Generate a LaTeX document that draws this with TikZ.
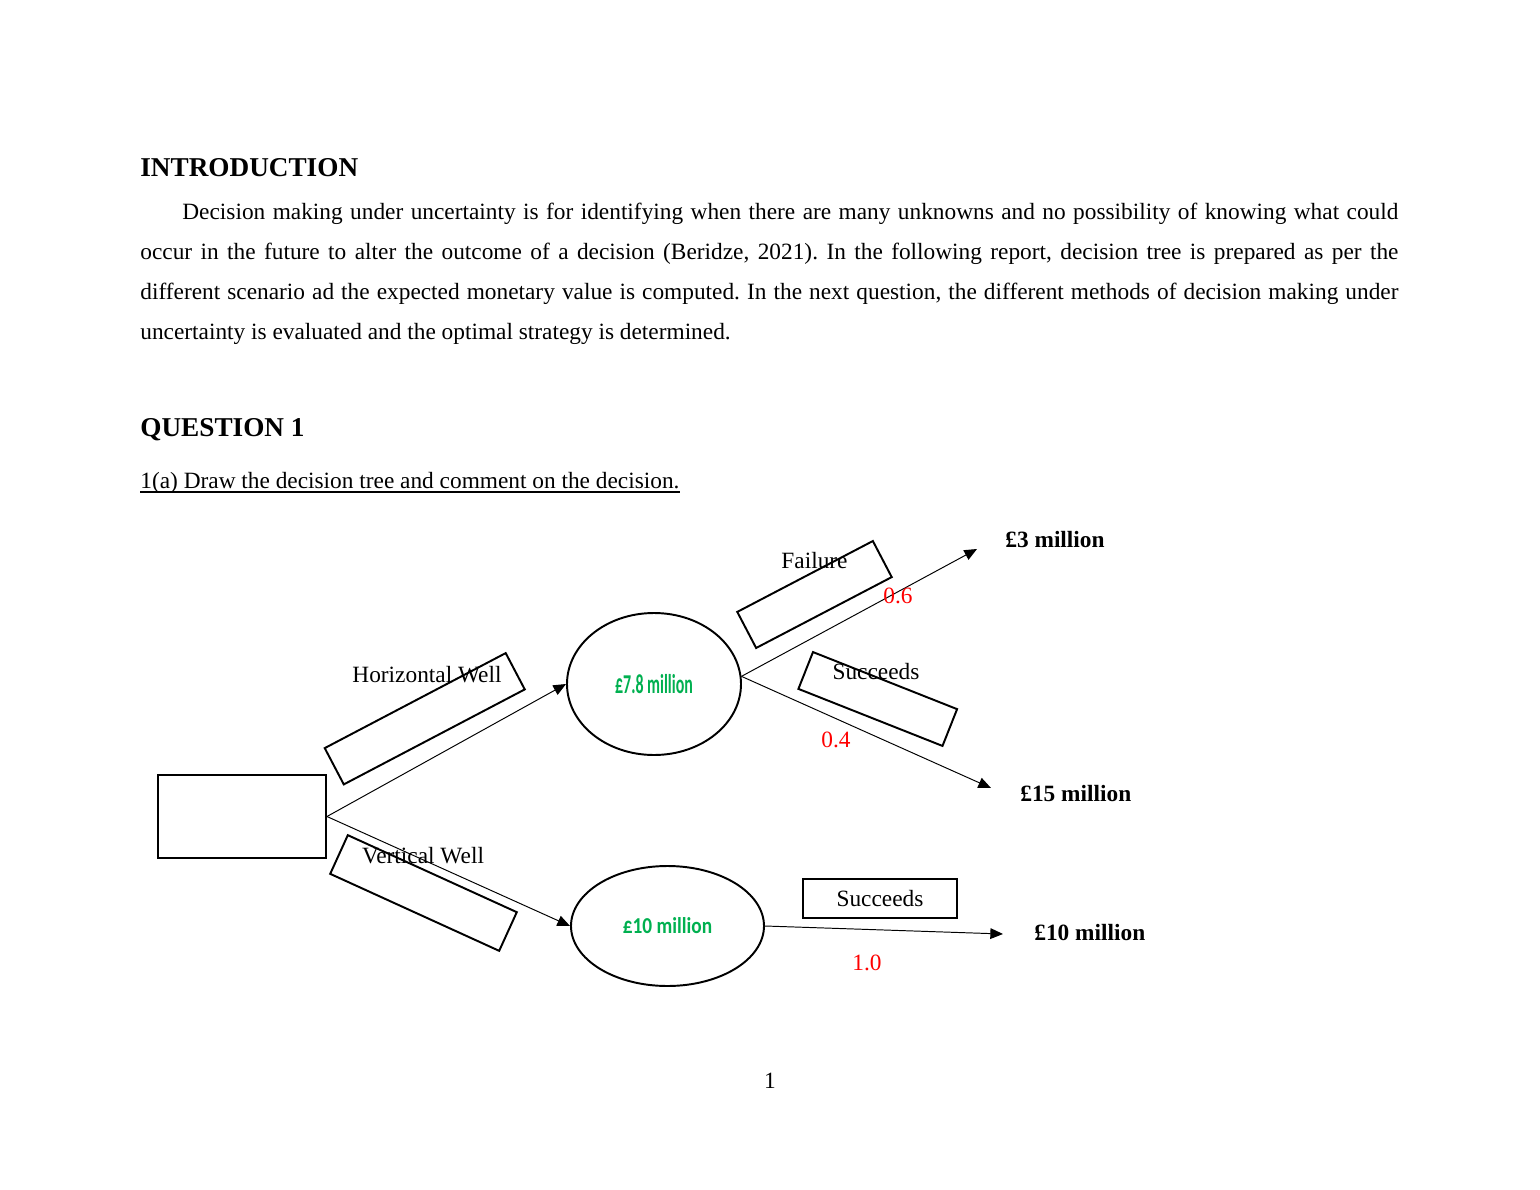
\documentclass[tikz,border=0pt]{standalone}
\usepackage{fontspec}
\setmainfont{Liberation Serif}
\newfontfamily\greenfont{Carlito}
\usetikzlibrary{arrows.meta,shapes.geometric}
\definecolor{mygreen}{HTML}{00B050}
\newlength\pxl
\setlength\pxl{0.514286pt}
\frenchspacing
\begin{document}
\begin{tikzpicture}[x=0.514286pt,y=-0.514286pt,
  txt/.style={anchor=base west, inner sep=0pt, font=\fontsize{12}{14}\selectfont},
  head/.style={anchor=base west, inner sep=0pt, font=\bfseries\fontsize{14}{16}\selectfont},
  lbl/.style={anchor=base, inner sep=0pt, font=\fontsize{12}{14}\selectfont},
  redlbl/.style={lbl, text=red},
  val/.style={anchor=base west, inner sep=0pt, font=\bfseries\fontsize{12}{14}\selectfont},
  tbox/.style={draw, line width=1pt, inner sep=0pt},
  oval/.style={draw, ellipse, line width=1pt, inner sep=0pt, text=mygreen},
  conn/.style={line width=0.5pt, -{Triangle[length=6.5pt,width=5.5pt]}}]
\useasboundingbox[fill=white] (0,0) rectangle (1540,1190);

% headings and paragraph
\node[head] (intro) at (140,176.7) {INTRODUCTION};
\node[txt] (p1) at (182,219.3) {\makebox[625.4pt][s]{Decision making under uncertainty is for identifying when there are many unknowns and no possibility of knowing what could}};
\node[txt] (p2) at (140,259.5) {\makebox[647pt][s]{occur in the future to alter the outcome of a decision (Beridze, 2021). In the following report, decision tree is prepared as per the}};
\node[txt] (p3) at (140,299.7) {\makebox[647pt][s]{different scenario ad the expected monetary value is computed. In the next question, the different methods of decision making under}};
\node[txt] (p4) at (140,339.9) {uncertainty is evaluated and the optimal strategy is determined.};
\node[head] (q1) at (140,436) {QUESTION 1};
\node[txt] (q1a) at (140,488.5) {1(a) Draw the decision tree and comment on the decision.};
\draw[line width=0.55pt] ([yshift=-1.8pt]q1a.base west) -- ([yshift=-1.8pt]q1a.base east);

% decision tree
\node[tbox, minimum width={168*\pxl}, minimum height={83*\pxl}] (dec) at (242,816.5) {};
\node[oval, minimum width={174*\pxl}, minimum height={142*\pxl}] (e1) at (654,684)
  {\greenfont\bfseries\fontsize{14}{16}\selectfont\scalebox{0.585}[1]{£7.8 million}};
\node[oval, minimum width={193*\pxl}, minimum height={120*\pxl}] (e2) at (667.5,926)
  {\greenfont\bfseries\fontsize{11.7}{14}\selectfont\scalebox{0.85}[1]{£10 million}};

% rotated label boxes
\node[tbox, rotate=27.7, minimum width={204.4*\pxl}, minimum height={41*\pxl}] (hbox) at (424.75,718.75) {};
\node[tbox, rotate=-24.5, minimum width={185.7*\pxl}, minimum height={42.5*\pxl}] (vbox) at (423.5,893) {};
\node[tbox, rotate=27.6, minimum width={153*\pxl}, minimum height={40.7*\pxl}] (fbox) at (814.5,594.5) {};
\node[tbox, rotate=-21.6, minimum width={155*\pxl}, minimum height={39.6*\pxl}] (sbox) at (877.75,699) {};
\node[tbox, minimum width={154*\pxl}, minimum height={39*\pxl}] (s2box) at (880,898.5) {};

% arrow targets
\coordinate (t3) at (977,549);
\coordinate (t15) at (991,788);
\coordinate (t10) at (1003,934);

% connectors
\draw[conn] (dec.east) -- (e1.west);
\draw[conn] (dec.east) -- (e2.west);
\draw[conn] (e1.5) -- (t3);
\draw[conn] (e1.5) -- (t15);
\draw[conn] (e2.east) -- (t10);

% branch labels
\node[lbl] (lh) at (427,682) {Horizontal Well};
\node[lbl] (lv) at (423,863) {Vertical Well};
\node[lbl] (lf) at (814.5,568) {Failure};
\node[lbl] (ls) at (876,679) {Succeeds};
\node[lbl] (ls2) at (880,906.5) {Succeeds};
\node[redlbl] (p06) at (898,603) {0.6};
\node[redlbl] (p04) at (836,747) {0.4};
\node[redlbl] (p10) at (867,970) {1.0};

% outcomes
\node[val] (v3) at (1005,547) {£3 million};
\node[val] (v15) at (1020,801) {£15 million};
\node[val] (v10) at (1034,940) {£10 million};

% page number
\node[lbl] (pg) at (770,1088) {1};
\end{tikzpicture}
\end{document}
